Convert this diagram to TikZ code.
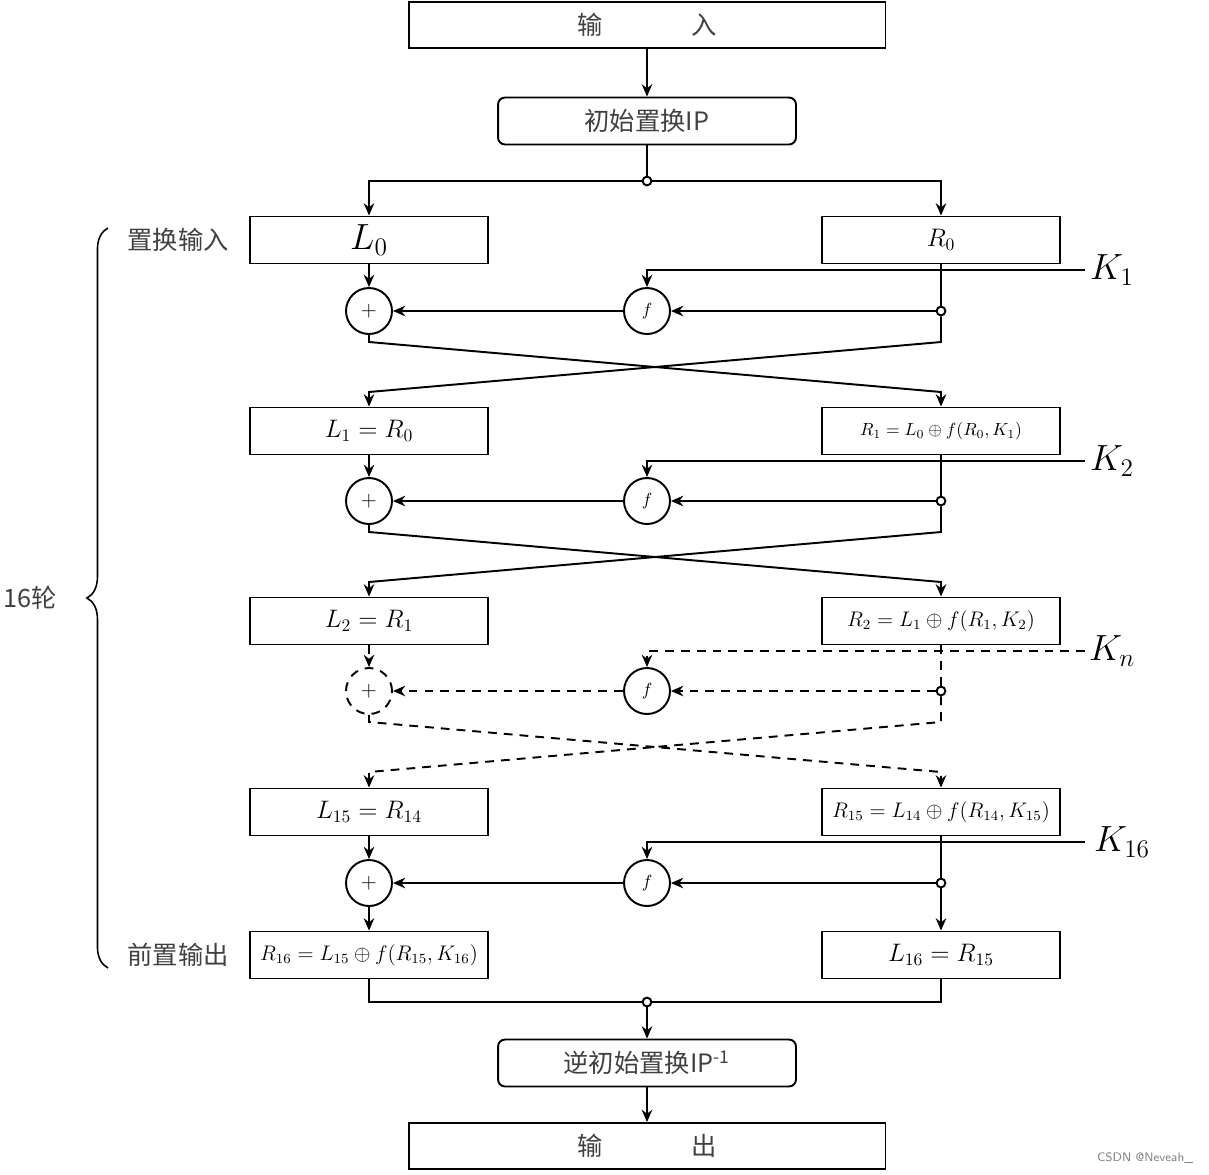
\documentclass[tikz,border=0pt]{standalone}
\usepackage{fontspec}
\newfontfamily\cjk{Noto Sans CJK SC}
\usetikzlibrary{arrows.meta,decorations.pathreplacing}
\begin{document}
\begin{tikzpicture}[x=0.02cm,y=-0.02cm,line width=1.1pt,
 box/.style={draw,minimum width=4.76cm,minimum height=0.94cm,inner sep=0pt,font=\Large},
 bigbox/.style={draw,minimum width=9.54cm,minimum height=0.92cm,inner sep=0pt,font=\cjk\Large,text=black!75},
 rbox/.style={draw,rounded corners=4pt,minimum width=5.96cm,minimum height=0.94cm,inner sep=0pt,font=\cjk\Large,text=black!75},
 circ/.style={draw,circle,minimum size=0.92cm,inner sep=0pt},
 dot/.style={draw,circle,fill=white,minimum size=5pt,inner sep=0pt},
 a/.style={-{Stealth[length=7pt,width=6pt]}},
 dsh/.style={dashed,dash pattern=on 5pt off 4pt},
 key/.style={font=\huge}]
\useasboundingbox (0,0) rectangle (1209,1174);
\node[bigbox] (in) at (647,25) {输\hspace{3.5em}入};
\node[rbox] (ip) at (647,121) {初始置换IP};
\draw[a] (in) -- (ip);
\node[dot] (j0) at (647,181) {};
\draw (ip) -- (j0);
\node[box,font=\huge] (L0) at (369,240) {$L_0$};
\node[box,font=\Large] (R0) at (941,240) {$R_0$};
\draw[a] (j0) -| (L0);
\draw[a] (j0) -| (R0);
% round 1
\node[circ,font=\large] (x1) at (369,311) {$+$};
\node[circ] (f1) at (647,311) {$f$};
\node[dot] (d1) at (941,311) {};
\node[key] (k1) at (1112,270) {$K_1$};
\coordinate (k1e) at (1085,270);
\draw[a] (k1e) -| (f1);
\draw (R0) -- (d1);
\draw[a] (d1) -- (f1);
\draw[a] (f1) -- (x1);
\draw[a] (L0) -- (x1);
\node[box] (L1) at (369,431) {$L_1=R_0$};
\node[box,font=\normalsize] (R1) at (941,431) {$R_1=L_0\oplus f(R_0,K_1)$};
\draw[a] (x1.south) -- (369,342) -- (941,392) -- (R1.north);
\draw[a] (d1) -- (941,342) -- (369,392) -- (L1.north);
% round 2
\node[circ,font=\large] (x2) at (369,501) {$+$};
\node[circ] (f2) at (647,501) {$f$};
\node[dot] (d2) at (941,501) {};
\node[key] (k2) at (1112,461) {$K_2$};
\coordinate (k2e) at (1085,461);
\draw[a] (k2e) -| (f2);
\draw (R1) -- (d2);
\draw[a] (d2) -- (f2);
\draw[a] (f2) -- (x2);
\draw[a] (L1) -- (x2);
\node[box] (L2) at (369,621) {$L_2=R_1$};
\node[box,font=\large] (R2) at (941,621) {$R_2=L_1\oplus f(R_1,K_2)$};
\draw[a] (x2.south) -- (369,532) -- (941,582) -- (R2.north);
\draw[a] (d2) -- (941,532) -- (369,582) -- (L2.north);
% round n dashed
\node[circ,dsh,font=\large] (xn) at (369,691) {$+$};
\node[circ] (fn) at (647,691) {$f$};
\node[dot] (dn) at (941,691) {};
\node[key] (kn) at (1112,651) {$K_n$};
\coordinate (kne) at (1085,651);
\draw[a,dsh] (kne) -| (fn);
\draw[dsh] (R2) -- (dn);
\draw[a,dsh] (dn) -- (fn);
\draw[a,dsh] (fn) -- (xn);
\draw[a,dsh] (L2) -- (xn);
\node[box] (L15) at (369,812) {$L_{15}=R_{14}$};
\node[box,font=\large] (R15) at (941,812) {$R_{15}=L_{14}\oplus f(R_{14},K_{15})$};
\draw[a,dsh] (xn.south) -- (369,722) -- (941,772) -- (R15.north);
\draw[a,dsh] (dn) -- (941,722) -- (369,772) -- (L15.north);
% round 16
\node[circ,font=\large] (x16) at (369,883) {$+$};
\node[circ] (f16) at (647,883) {$f$};
\node[dot] (d16) at (941,883) {};
\node[key] (k16) at (1122,842) {$K_{16}$};
\coordinate (k16e) at (1085,842);
\draw[a] (k16e) -| (f16);
\draw (R15) -- (d16);
\draw[a] (d16) -- (f16);
\draw[a] (f16) -- (x16);
\draw[a] (L15) -- (x16);
\node[box,font=\large] (R16) at (369,955) {$R_{16}=L_{15}\oplus f(R_{15},K_{16})$};
\node[box] (L16) at (941,955) {$L_{16}=R_{15}$};
\draw[a] (x16) -- (R16);
\draw[a] (d16) -- (L16);
% output
\node[dot] (j1) at (647,1002) {};
\draw (R16.south) |- (j1);
\draw (L16.south) |- (j1);
\node[rbox] (ipi) at (647,1063) {逆初始置换IP\textsuperscript{-1}};
\draw[a] (j1) -- (ipi);
\node[bigbox] (out) at (647,1146) {输\hspace{3.5em}出};
\draw[a] (ipi) -- (out);
% labels
\node[font=\cjk\Large,text=black!75] (t1) at (178,240) {置换输入};
\node[font=\cjk\Large,text=black!75] (t2) at (178,955) {前置输出};
\node[font=\cjk\Large,text=black!75] (t3) at (30,598) {16轮};
\draw[line width=0.9pt,decorate,decoration={brace,amplitude=12pt}] (108,968) -- (108,228);
\node[font=\sffamily\scriptsize,text=gray] (w) at (1145,1158) {CSDN @Neveah\_};
\end{tikzpicture}
\end{document}
